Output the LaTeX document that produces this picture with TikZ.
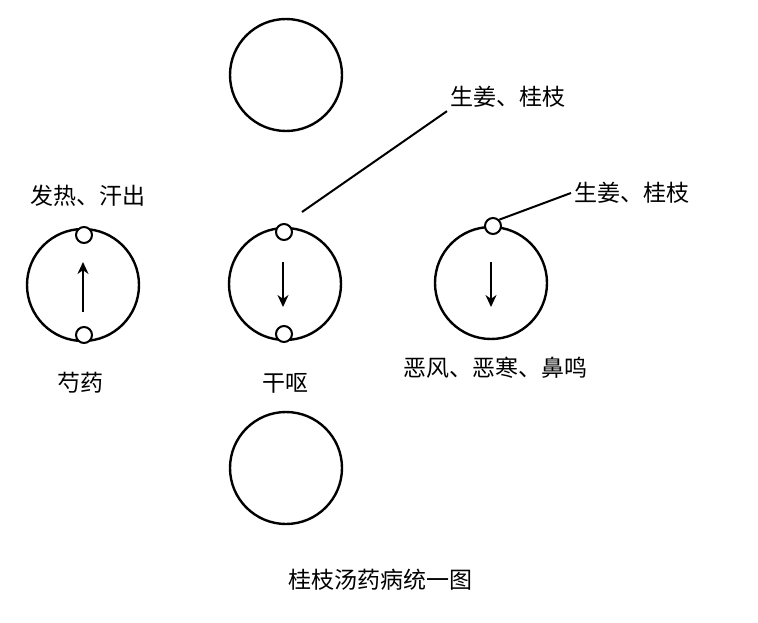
\documentclass[tikz,border=0pt]{standalone}
\usepackage{fontspec}
\usetikzlibrary{arrows.meta}
\newfontfamily\cjk{Noto Sans CJK SC}
\begin{document}
\begin{tikzpicture}[x=1pt,y=-1pt,
  big/.style={circle,draw,line width=2.4pt,minimum size=112pt,inner sep=0},
  small/.style={circle,draw,line width=2pt,minimum size=16pt,inner sep=0},
  lab/.style={font=\cjk\fontsize{23}{26}\selectfont},
  arr/.style={line width=2.6pt,-{Stealth[length=12pt,width=11pt]}}]
\useasboundingbox (0,0) rectangle (758,623);
\node[big] (top) at (286,75) {};
\node[big] (L) at (83,285) {};
\node[big] (M) at (285,284) {};
\node[big] (R) at (491,283) {};
\node[big] (B) at (286,468) {};
\node[small,fill=white] (Lt) at (84,235) {};
\node[small,fill=white] (Lb) at (84,335) {};
\node[small,fill=white] (Mt) at (284,232) {};
\node[small,fill=white] (Mb) at (284,334) {};
\node[small,fill=white] (Rt) at (493,226) {};
\coordinate (La) at (83,312); \coordinate (Lz) at (83,262);
\coordinate (Ma) at (283,262); \coordinate (Mz) at (283,307);
\coordinate (Ra) at (491,262); \coordinate (Rz) at (491,307);
\draw[arr] (La) -- (Lz);
\draw[arr] (Ma) -- (Mz);
\draw[arr] (Ra) -- (Rz);
\node[lab] (t1) at (88,196) {发热、汗出};
\node[lab] (t2) at (80,383) {芍药};
\node[lab] (t3) at (285,383) {干呕};
\node[lab] (t4) at (495,368) {恶风、恶寒、鼻鸣};
\node[lab] (t5) at (508,97) {生姜、桂枝};
\node[lab] (t6) at (632,193) {生姜、桂枝};
\node[lab] (cap) at (380,580) {桂枝汤药病统一图};
\draw[line width=2pt] (302,212) -- (t5.south west);
\draw[line width=2pt] (Rt.north east) -- (t6.west);
\end{tikzpicture}
\end{document}
